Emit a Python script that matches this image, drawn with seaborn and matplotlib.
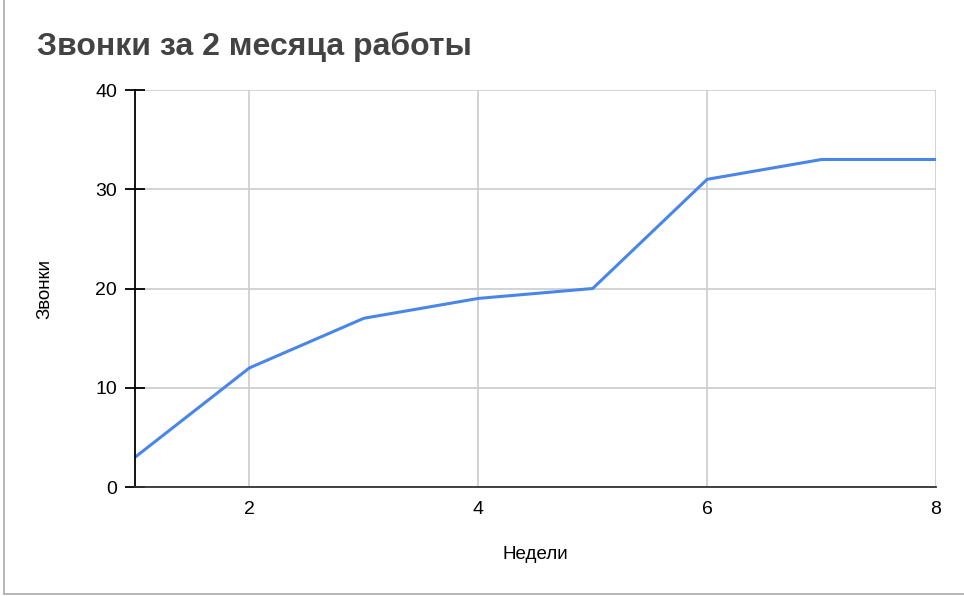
import matplotlib
matplotlib.use("Agg")
import matplotlib.pyplot as plt
import seaborn as sns
import pandas as pd
from matplotlib.lines import Line2D

weeks = [1, 2, 3, 4, 5, 6, 7, 8]
calls = [3, 12, 17, 19, 20, 31, 33, 33]
x_ticks = [2, 4, 6, 8]
y_ticks = [0, 10, 20, 30, 40]

df = pd.DataFrame({"Недели": weeks, "Звонки": calls})

sns.set_style("white")
plt.rcParams["font.family"] = ["Liberation Sans", "DejaVu Sans"]

fig = plt.figure(figsize=(9.64, 5.96), dpi=100)
ax = fig.add_axes([135 / 964, 1 - 487 / 596, (936 - 135) / 964, (487 - 90) / 596])

sns.lineplot(data=df, x="Недели", y="Звонки", ax=ax, color="#4a86e8", linewidth=2.2)

ax.set_xlim(1, 8)
ax.set_ylim(0, 40)
ax.set_xticks(x_ticks)
ax.set_yticks(y_ticks)
ax.grid(True, color="#cccccc", linewidth=1.2)
ax.set_axisbelow(True)

for s in ["top", "right"]:
    ax.spines[s].set_visible(False)
ax.spines["left"].set_color("black")
ax.spines["left"].set_linewidth(1.3)
ax.spines["bottom"].set_color("#333333")
ax.spines["bottom"].set_linewidth(1.3)

ax.tick_params(axis="y", left=True, direction="inout", length=14, width=1.3,
               color="black", labelcolor="black", labelsize=14, pad=6)
ax.tick_params(axis="x", bottom=False, length=0, labelcolor="black", labelsize=14, pad=10)

ax.set_xlabel("Недели", fontsize=13.5, labelpad=20, color="black")
ax.set_ylabel("Звонки", fontsize=13.5, labelpad=30, color="black")

fig.text(37 / 964, 1 - 47 / 596, "Звонки за 2 месяца работы", fontsize=23,
         fontweight="bold", color="#434343", va="center", ha="left")

# spreadsheet frame lines
fig.add_artist(Line2D([4 / 964, 4 / 964], [2 / 596, 1], color="#aaaaaa", linewidth=1.2,
                      transform=fig.transFigure))
fig.add_artist(Line2D([4 / 964, 1], [2 / 596, 2 / 596], color="#aaaaaa", linewidth=1.2,
                      transform=fig.transFigure))

fig.savefig("out.png", dpi=100, facecolor="white")
